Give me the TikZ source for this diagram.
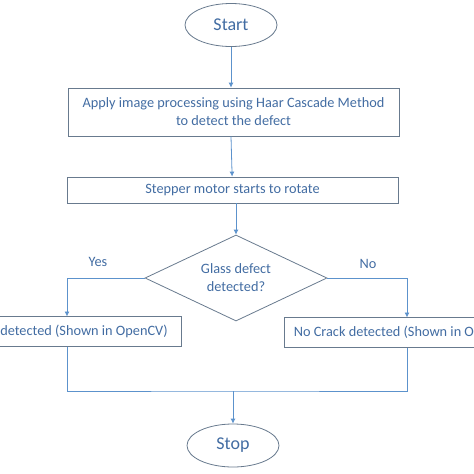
\documentclass[tikz,border=0pt]{standalone}
\usepackage{fontspec}
\setmainfont{Carlito}
\usetikzlibrary{arrows.meta, shapes.geometric}
\definecolor{fctext}{RGB}{66,108,162}
\definecolor{fcedge}{RGB}{104,122,142}
\definecolor{fcarrow}{RGB}{92,146,204}

\begin{document}
\begin{tikzpicture}[x=1pt, y=-1pt, every node/.style={font=\fontsize{14.3}{18}\selectfont, text=fctext},
  terminal/.style={ellipse, draw=fcedge, thick, minimum width=92pt, minimum height=43pt, inner sep=0pt,
                   font=\fontsize{18}{20}\selectfont},
  procbox/.style={rectangle, draw=fcedge, thick, align=center, inner sep=0pt},
  decision/.style={diamond, draw=fcedge, thick, aspect=2.1, minimum width=182pt, minimum height=86pt,
                   align=center, inner sep=0pt},
  flow/.style={-{Latex[length=5pt, width=5pt]}, fcarrow, thick}]
  \useasboundingbox (0,0) rectangle (474,474);

  % Main column
  \node[terminal] (start) at (231,25) {Start};
  \node[procbox, minimum width=331pt, minimum height=48pt] (apply) at (233.5,112)
    {Apply image processing using Haar Cascade Method\\to detect the defect};
  \node[procbox, minimum width=331pt, minimum height=26pt] (stepper) at (232.5,190)
    {Stepper motor starts to rotate};
  \node[decision] (check) at (236,278) {Glass defect\\detected?};

  % Outcome boxes (run past the page edges)
  \node[procbox, minimum width=230pt, minimum height=30pt] (crack) at (66.5,331.5)
    {Crack detected (Shown in OpenCV)};
  \node[procbox, minimum width=242pt, minimum height=30pt] (nocrack) at (405,332.5)
    {No Crack detected (Shown in OpenCV)};
  \coordinate (yesin) at (67,316.5);
  \coordinate (yesout) at (67,346.5);
  \coordinate (noin) at (407,317.5);
  \coordinate (noout) at (407,347.5);

  \node[terminal] (stop) at (233,445.5) {Stop};
  \coordinate (join) at (233,391);

  % Branch labels
  \node (yes) at (98,262) {Yes};
  \node (no) at (368,264) {No};

  % Flows
  \draw[flow] (start) -- (apply.north -| start);
  \draw[flow] (apply.south -| start) -- (stepper);
  \draw[flow] (stepper.south -| check.north) -- (check);
  \draw[flow] (check.west) -| (yesin);
  \draw[flow] (check.east) -| (noin);
  \draw[fcarrow, thick] (yesout) |- (join) -| (noout);
  \draw[flow] (join) -- (stop);
\end{tikzpicture}
\end{document}
